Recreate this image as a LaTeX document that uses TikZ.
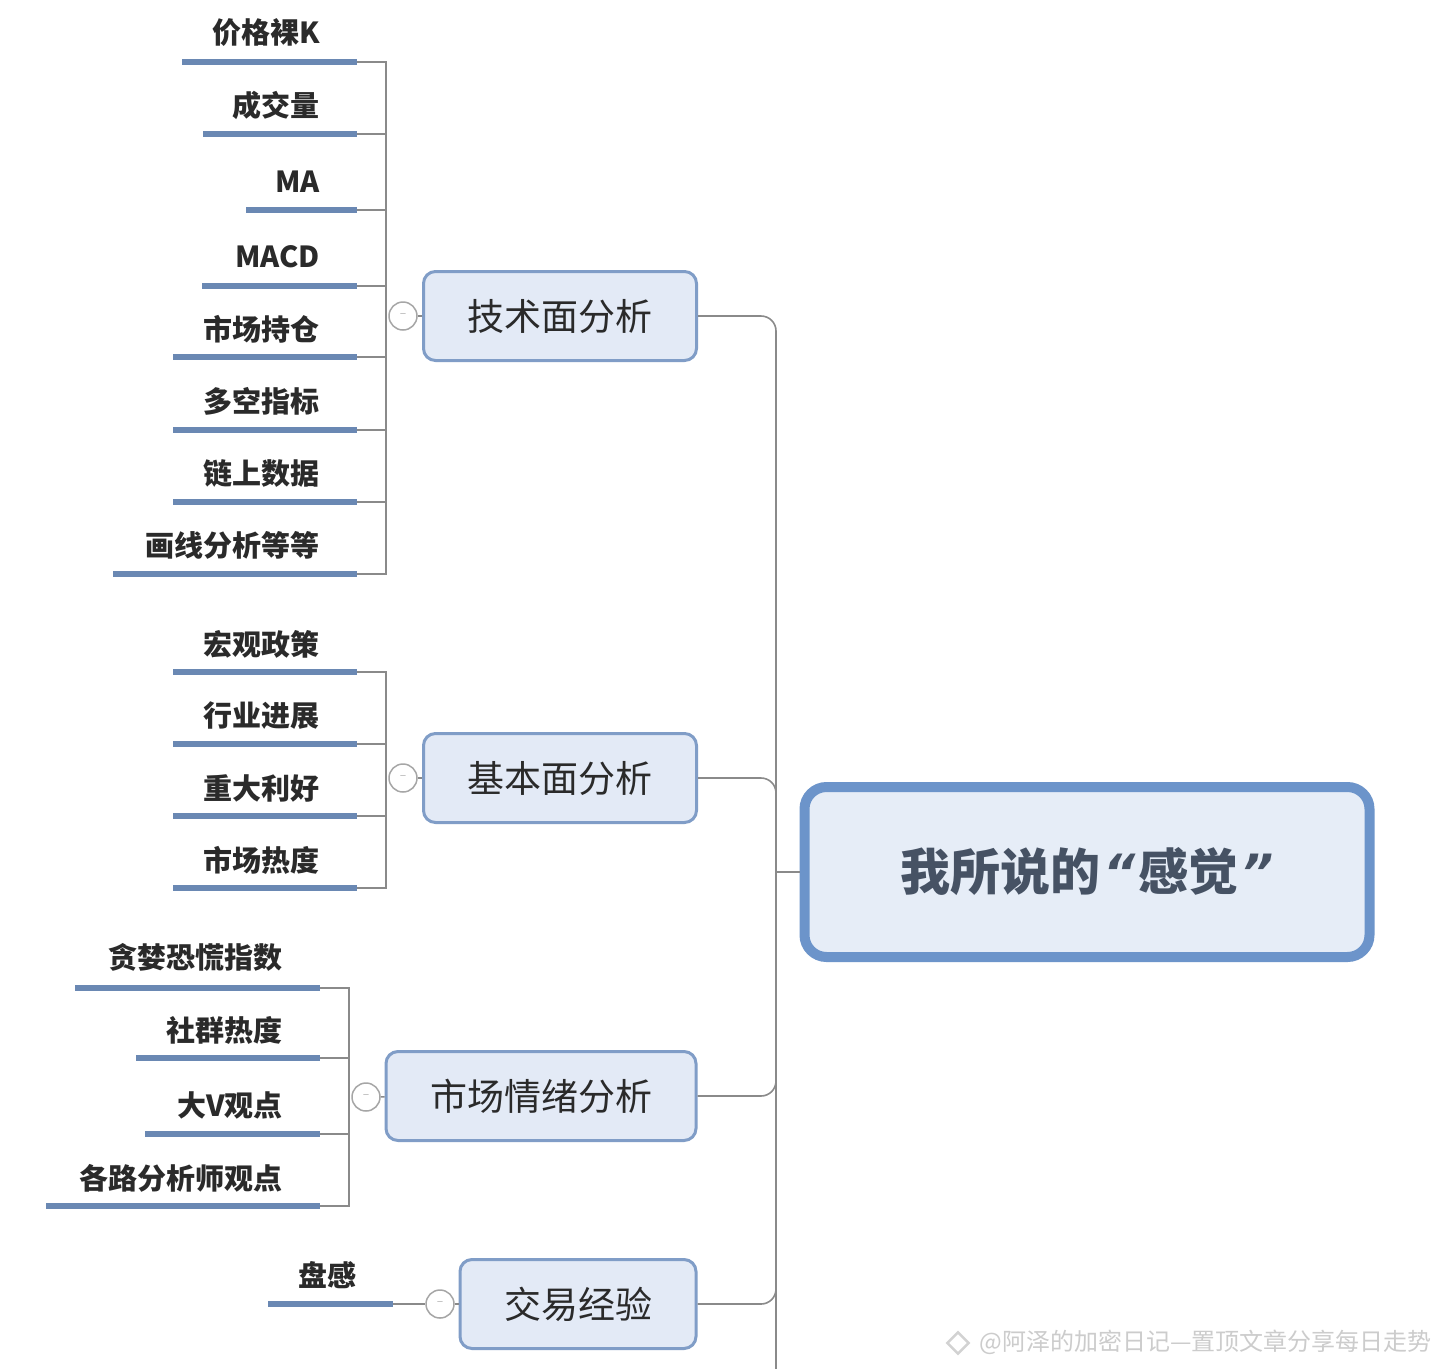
\documentclass[tikz,border=0pt]{standalone}
\usepackage{fontspec}
\setmainfont{Noto Sans CJK SC}
\newfontfamily\quotefont{DejaVu Sans}
\usepackage{tikz}
\usetikzlibrary{positioning}
\definecolor{barBlue}{HTML}{6A88B3}
\definecolor{boxFill}{HTML}{E3EAF6}
\definecolor{boxLine}{HTML}{809DC7}
\definecolor{rootFill}{HTML}{E6EDF7}
\definecolor{rootLine}{HTML}{6C94CA}
\definecolor{linkGray}{HTML}{8A8A8A}
\definecolor{inkDark}{HTML}{2A2A2A}
\definecolor{rootInk}{HTML}{465264}
\newcommand{\rootq}[1]{\hspace{3pt}{\quotefont\bfseries\itshape #1}\hspace{3pt}}
\tikzset{ln/.style={draw, linkGray, line width=1.6}}
\tikzset{br/.style={fill=barBlue, inner sep=0pt, minimum height=6,
  anchor=east}}
\tikzset{lf/.style={inner sep=0pt, anchor=east, text=inkDark,
  font=\bfseries\fontsize{29}{31}\selectfont}}
\tikzset{mn/.style={draw=boxLine, fill=boxFill, line width=3,
  rounded corners=12, minimum height=89, text=inkDark,
  font=\fontsize{37}{40}\selectfont}}
\tikzset{rt/.style={draw=rootLine, fill=rootFill, line width=10,
  rounded corners=22, minimum width=565, minimum height=170,
  text=rootInk, font=\bfseries\fontsize{50}{54}\selectfont}}
\tikzset{tg/.style={circle, draw=gray!70, line width=1.5, fill=white,
  minimum size=28, inner sep=0pt, text=gray!60,
  font=\fontsize{12}{12}\selectfont}}

\begin{document}
\begin{tikzpicture}[x=1pt,y=1pt]
        \fill[white] (0,0) rectangle (1440,-1369);
        \useasboundingbox (0,0) rectangle (1440,-1369);
        %% root and trunk
        \node (root) at (1087,-872) [rt] {我所说的\rootq{“}感觉\rootq{”}};
        \coordinate (j) at (776,-872);
        \coordinate (bot) at (776,-1369);
        \node (tech) at (560,-316) [mn, minimum width=273] {技术面分析};
        \node (fund) at (560,-778) [mn, minimum width=273] {基本面分析};
        \node (emo) at (541,-1096) [mn, minimum width=310] {市场情绪分析};
        \node (trade) at (578,-1304) [mn, minimum width=236] {交易经验};
        \draw [ln, rounded corners=15] (tech.east) -| (j);
        \draw [ln, rounded corners=15] (fund.east) -| (j);
        \draw [ln, rounded corners=15] (emo.east) -| (j);
        \draw [ln, rounded corners=15] (trade.east) -| (j);
        \draw [ln] (j) -- (bot);
        \draw [ln] (j) -- (root);
        %% tech leaves
        \node (c1) at (403,-316) [tg] {--};
        \draw [ln] (c1) -- (tech);
        \node (k1) at (357,-62) [br, minimum width=175] {};
        \node (k2) at (357,-134) [br, minimum width=154] {};
        \node (k3) at (357,-210) [br, minimum width=111] {};
        \node (k4) at (357,-286) [br, minimum width=155] {};
        \node (k5) at (357,-357) [br, minimum width=184] {};
        \node (k6) at (357,-430) [br, minimum width=184] {};
        \node (k7) at (357,-502) [br, minimum width=184] {};
        \node (k8) at (357,-574) [br, minimum width=244] {};
        \node (k1t) at (320,-33) [lf] {价格裸K};
        \node (k2t) at (320,-105) [lf] {成交量};
        \node (k3t) at (320,-182) [lf] {MA};
        \node (k4t) at (320,-257) [lf] {MACD};
        \node (k5t) at (320,-329) [lf] {市场持仓};
        \node (k6t) at (320,-401) [lf] {多空指标};
        \node (k7t) at (320,-473) [lf] {链上数据};
        \node (k8t) at (320,-545) [lf] {画线分析等等};
        \draw [ln] (k1.east) -| ([xshift=-2]c1.west) |- (k8.east);
        \draw [ln] (k2.east) -| ([xshift=-2]c1.west);
        \draw [ln] (k3.east) -| ([xshift=-2]c1.west);
        \draw [ln] (k4.east) -| ([xshift=-2]c1.west);
        \draw [ln] (k5.east) -| ([xshift=-2]c1.west);
        \draw [ln] (k6.east) -| ([xshift=-2]c1.west);
        \draw [ln] (k7.east) -| ([xshift=-2]c1.west);
        %% fund leaves
        \node (c2) at (403,-778) [tg] {--};
        \draw [ln] (c2) -- (fund);
        \node (f1) at (357,-672) [br, minimum width=184] {};
        \node (f2) at (357,-744) [br, minimum width=184] {};
        \node (f3) at (357,-816) [br, minimum width=184] {};
        \node (f4) at (357,-888) [br, minimum width=184] {};
        \node (f1t) at (320,-644) [lf] {宏观政策};
        \node (f2t) at (320,-716) [lf] {行业进展};
        \node (f3t) at (320,-788) [lf] {重大利好};
        \node (f4t) at (320,-860) [lf] {市场热度};
        \draw [ln] (f1.east) -| ([xshift=-2]c2.west) |- (f4.east);
        \draw [ln] (f2.east) -| ([xshift=-2]c2.west);
        \draw [ln] (f3.east) -| ([xshift=-2]c2.west);
        %% emo leaves
        \node (c3) at (366,-1097) [tg] {--};
        \draw [ln] (c3) -- (emo);
        \node (e1) at (320,-988) [br, minimum width=245] {};
        \node (e2) at (320,-1058) [br, minimum width=184] {};
        \node (e3) at (320,-1134) [br, minimum width=175] {};
        \node (e4) at (320,-1206) [br, minimum width=274] {};
        \node (e1t) at (283,-957) [lf] {贪婪恐慌指数};
        \node (e2t) at (283,-1030) [lf] {社群热度};
        \node (e3t) at (283,-1105) [lf] {大V观点};
        \node (e4t) at (283,-1178) [lf] {各路分析师观点};
        \draw [ln] (e1.east) -| ([xshift=-2]c3.west) |- (e4.east);
        \draw [ln] (e2.east) -| ([xshift=-2]c3.west);
        \draw [ln] (e3.east) -| ([xshift=-2]c3.west);
        %% trade leaf
        \node (c4) at (440,-1304) [tg] {--};
        \draw [ln] (c4) -- (trade);
        \node (p1) at (393,-1304) [br, minimum width=125] {};
        \node (p1t) at (357,-1275) [lf] {盘感};
        \draw [ln] (p1.east) -- (c4.west);
        %% watermark
        \node (logo) at (958,-1343) [draw=gray!35, line width=2.5,
            minimum size=15, inner sep=0pt, rotate=45] {};
        \node (wm) at (1432,-1342) [anchor=east, text=gray!40, inner sep=0pt,
            font=\fontsize{24}{26}\selectfont] {@阿泽的加密日记—置顶文章分享每日走势};
\end{tikzpicture}
\end{document}
